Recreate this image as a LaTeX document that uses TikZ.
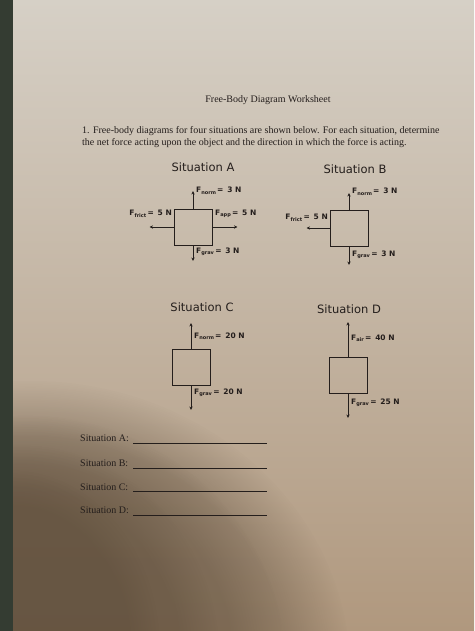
\documentclass[tikz,border=0pt]{standalone}
\usepackage{fontspec}
\setmainfont{Liberation Serif}
\newfontfamily\sitfont{DejaVu Sans}
\usetikzlibrary{arrows, arrows.meta}
\usetikzlibrary{calc}
\usetikzlibrary{fadings}

\definecolor{paper}{RGB}{214,208,198}
\definecolor{paperlow}{RGB}{176,152,126}
\definecolor{edgecol}{RGB}{52,60,50}
\definecolor{shadecol}{RGB}{88,72,54}
\definecolor{ink}{RGB}{36,30,28}

% force label: F, lowered subscript, value
\newcommand{\fdesc}[2]{F\raisebox{-1.5pt}{\fontsize{5}{5}\selectfont #1}\,=\, #2}

\tikzset{
  body/.style={draw=ink, line width=1pt, minimum width=38pt, minimum height=36pt, inner sep=0pt},
  forcearrow/.style={draw=ink, line width=0.9pt, -{Stealth[length=3.5pt,width=3.2pt]}},
  flabel/.style={inner sep=0pt, text=ink, font=\sitfont\bfseries\fontsize{7.5}{7.5}\selectfont},
  sitlabel/.style={inner sep=0pt, text=ink, font=\sitfont\fontsize{11.5}{11.5}\selectfont},
  sheettext/.style={inner sep=0pt, text=ink, font=\fontsize{10}{12}\selectfont},
  blank/.style={draw=ink, line width=0.7pt},
  shadow/.style={fill=shadecol, opacity=0.35, path fading=circle with fuzzy edge 20 percent}
}

\begin{document}
\begin{tikzpicture}[x=1pt, y=-1pt]
  \useasboundingbox (0,0) rectangle (474,631);
  % paper and shadows of the photo
  \fill[top color=paper, bottom color=paperlow] (0,0) rectangle (474,631);
  \path[shadow] (30,670) ellipse (320 and 290);
  \path[shadow] (25,665) ellipse (260 and 250);
  \path[shadow] (20,660) ellipse (200 and 215);
  \path[shadow] (10,650) ellipse (150 and 180);
  \fill[edgecol] (0,0) rectangle (13,631);

  % heading
  \node[sheettext] (title) at (268,100) {Free-Body Diagram Worksheet};
  \node[sheettext, anchor=west] (line1) at (82,131) {1. Free-body diagrams for four situations are shown below. For each situation, determine};
  \node[sheettext, anchor=west] (line2) at (82,143) {the net force acting upon the object and the direction in which the force is acting.};

  % Situation A
  \node[sitlabel] (titleA) at (203,167) {Situation A};
  \node[body] (boxA) at (193,227) {};
  \coordinate (A-up) at (193,191);
  \coordinate (A-down) at (193,261);
  \coordinate (A-left) at ($(boxA.west)+(-24,0)$);
  \coordinate (A-right) at ($(boxA.east)+(25,0)$);
  \draw[forcearrow] (boxA.north) -- (A-up);
  \draw[forcearrow] (boxA.south) -- (A-down);
  \draw[forcearrow] (boxA.west) -- (A-left);
  \draw[forcearrow] (boxA.east) -- (A-right);
  \node[flabel, anchor=west] (A-norm) at (196,191) {\fdesc{norm}{3 N}};
  \node[flabel, anchor=east] (A-frict) at (172,214) {\fdesc{frict}{5 N}};
  \node[flabel, anchor=west] (A-app) at (215,214) {\fdesc{app}{5 N}};
  \node[flabel, anchor=west] (A-grav) at (196,252) {\fdesc{grav}{3 N}};

  % Situation B
  \node[sitlabel] (titleB) at (355,169) {Situation B};
  \node[body] (boxB) at (349,228) {};
  \coordinate (B-up) at (349,193);
  \coordinate (B-down) at (349,265);
  \coordinate (B-left) at ($(boxB.west)+(-23,0)$);
  \draw[forcearrow] (boxB.north) -- (B-up);
  \draw[forcearrow] (boxB.south) -- (B-down);
  \draw[forcearrow] (boxB.west) -- (B-left);
  \node[flabel, anchor=west] (B-norm) at (352,192) {\fdesc{norm}{3 N}};
  \node[flabel, anchor=east] (B-frict) at (328,218) {\fdesc{frict}{5 N}};
  \node[flabel, anchor=west] (B-grav) at (352,255) {\fdesc{grav}{3 N}};

  % Situation C
  \node[sitlabel] (titleC) at (202,307) {Situation C};
  \node[body] (boxC) at (191,367) {};
  \coordinate (C-up) at (191,323);
  \coordinate (C-down) at (191,410);
  \draw[forcearrow] (boxC.north) -- (C-up);
  \draw[forcearrow] (boxC.south) -- (C-down);
  \node[flabel, anchor=west] (C-norm) at (194,336) {\fdesc{norm}{20 N}};
  \node[flabel, anchor=west] (C-grav) at (194,393) {\fdesc{grav}{20 N}};

  % Situation D
  \node[sitlabel] (titleD) at (349,309) {Situation D};
  \node[body] (boxD) at (348,375) {};
  \coordinate (D-up) at (348,322);
  \coordinate (D-down) at (348,418);
  \draw[forcearrow] (boxD.north) -- (D-up);
  \draw[forcearrow] (boxD.south) -- (D-down);
  \node[flabel, anchor=west] (D-air) at (351,338) {\fdesc{air}{40 N}};
  \node[flabel, anchor=west] (D-grav) at (351,403) {\fdesc{grav}{25 N}};

  % answer blanks
  \node[sheettext, anchor=west] (ansA) at (80,438) {Situation A:};
  \node[sheettext, anchor=west] (ansB) at (80,463) {Situation B:};
  \node[sheettext, anchor=west] (ansC) at (80,487) {Situation C:};
  \node[sheettext, anchor=west] (ansD) at (80,510) {Situation D:};
  \draw[blank] (133,443) -- (267,443);
  \draw[blank] (133,468) -- (267,468);
  \draw[blank] (133,491) -- (267,491);
  \draw[blank] (133,515) -- (267,515);
\end{tikzpicture}
\end{document}
